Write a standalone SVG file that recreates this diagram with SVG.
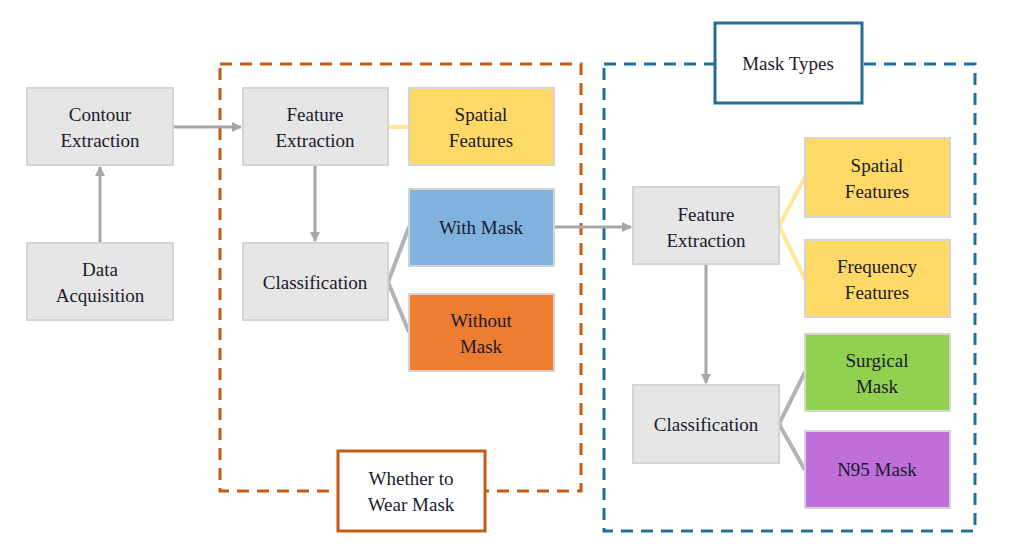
<svg xmlns="http://www.w3.org/2000/svg" width="1024" height="556" viewBox="0 0 1024 556">
<style>
text{font-family:'Liberation Serif','DejaVu Serif',serif;font-size:19px;fill:#1a1a2e;text-anchor:middle}
.n{stroke:#d4d4d4;stroke-width:2}
.g{fill:#e6e6e6}
.y{fill:#ffd966}
.arr{stroke:#a6a6a6;stroke-width:3;fill:none}
.br{stroke:#b3b3b3;stroke-width:4;fill:none}
.yl{stroke:#ffe699;stroke-width:4;fill:none}
</style>
<defs><marker id="a" markerWidth="10" markerHeight="10" refX="9" refY="5" orient="auto" markerUnits="userSpaceOnUse"><path d="M0,0 L10,5 L0,10 Z" fill="#a6a6a6"/></marker></defs>
<rect x="220" y="64" width="361" height="427" fill="none" stroke="#c55a11" stroke-width="3" stroke-dasharray="12,8"/>
<rect x="604" y="64" width="371" height="467" fill="none" stroke="#1f6e9c" stroke-width="3" stroke-dasharray="12,8"/>
<g id="connectors">
<line class="arr" x1="173" y1="127" x2="241" y2="127" marker-end="url(#a)"/>
<line class="arr" x1="100" y1="243" x2="100" y2="167" marker-end="url(#a)"/>
<line class="arr" x1="315" y1="165" x2="315" y2="241" marker-end="url(#a)"/>
<line class="yl" x1="388" y1="127" x2="409" y2="127"/>
<path class="br" d="M409,227 L388,282 L409,332"/>
<line class="arr" x1="554" y1="227" x2="631" y2="227" marker-end="url(#a)"/>
<path class="yl" d="M805,177 L779,226 L805,279"/>
<line class="arr" x1="706" y1="264" x2="706" y2="383" marker-end="url(#a)"/>
<path class="br" d="M805,372 L779,424 L805,470"/>
</g>
<g id="contour"><rect class="n g" x="27" y="88" width="146" height="77"/><text x="100" y="121">Contour</text><text x="100" y="147">Extraction</text></g>
<g id="data"><rect class="n g" x="27" y="243" width="146" height="77"/><text x="100" y="276">Data</text><text x="100" y="302">Acquisition</text></g>
<g id="fe1"><rect class="n g" x="243" y="88" width="145" height="77"/><text x="315" y="121">Feature</text><text x="315" y="147">Extraction</text></g>
<g id="sf1"><rect class="n y" x="409" y="88" width="145" height="77"/><text x="481" y="121">Spatial</text><text x="481" y="147">Features</text></g>
<g id="cl1"><rect class="n g" x="243" y="243" width="145" height="77"/><text x="315" y="289">Classification</text></g>
<g id="with"><rect class="n" fill="#7fb2df" x="409" y="189" width="145" height="77"/><text x="481" y="234">With Mask</text></g>
<g id="without"><rect class="n" fill="#ed7d31" x="409" y="294" width="145" height="77"/><text x="481" y="327">Without</text><text x="481" y="353">Mask</text></g>
<g id="whether"><rect x="338" y="451" width="147" height="80" fill="#fff" stroke="#c55a11" stroke-width="3"/><text x="411" y="485">Whether to</text><text x="411" y="511">Wear Mask</text></g>
<g id="types"><rect x="715" y="23" width="147" height="80" fill="#fff" stroke="#1f6e9c" stroke-width="3"/><text x="788" y="70">Mask Types</text></g>
<g id="fe2"><rect class="n g" x="633" y="187" width="146" height="77"/><text x="706" y="221">Feature</text><text x="706" y="247">Extraction</text></g>
<g id="sf2"><rect class="n y" x="805" y="138" width="145" height="79"/><text x="877" y="172">Spatial</text><text x="877" y="198">Features</text></g>
<g id="ff"><rect class="n y" x="805" y="240" width="145" height="77"/><text x="877" y="273">Frequency</text><text x="877" y="299">Features</text></g>
<g id="cl2"><rect class="n g" x="633" y="385" width="146" height="78"/><text x="706" y="431">Classification</text></g>
<g id="surg"><rect class="n" fill="#92d050" x="805" y="334" width="145" height="77"/><text x="877" y="367">Surgical</text><text x="877" y="393">Mask</text></g>
<g id="n95"><rect class="n" fill="#c06fda" x="805" y="431" width="145" height="77"/><text x="877" y="476">N95 Mask</text></g>
</svg>
